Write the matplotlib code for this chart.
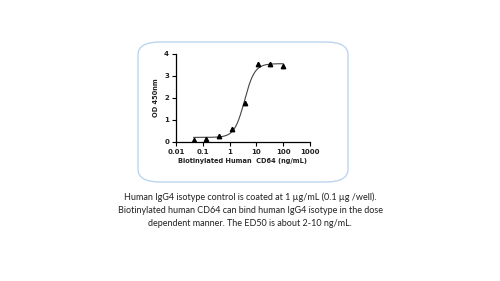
import matplotlib.pyplot as plt
import numpy as np
from matplotlib.patches import FancyBboxPatch

# data (3-fold dilution series)
conc = [0.0457, 0.137, 0.41, 1.23, 3.7, 11.1, 33.3, 100]
od = [0.10, 0.13, 0.27, 0.59, 1.78, 3.56, 3.56, 3.47]

# 4PL fit parameters (estimated)
bottom, top, ec50, hill = 0.21, 3.56, 3.6, 2.3

xticks = [0.01, 0.1, 1, 10, 100, 1000]
xticklabels = ['0.01', '0.1', '1', '10', '100', '1000']
yticks = [0, 1, 2, 3, 4]

caption = ("Human IgG4 isotype control is coated at 1 \u00b5g/mL (0.1 \u00b5g /well).\n"
           "Biotinylated human CD64 can bind human IgG4 isotype in the dose\n"
           "dependent manner. The ED50 is about 2-10 ng/mL.")

W, H = 500, 281
fig = plt.figure(figsize=(W / 100, H / 100), dpi=100)

# rounded frame
box = FancyBboxPatch((138 / W, 1 - 182 / H), 210 / W, 140 / H,
                     boxstyle="round,pad=0,rounding_size=0.045",
                     transform=fig.transFigure, fill=False,
                     edgecolor='#bcd5ee', linewidth=1.0)
fig.patches.append(box)

ax = fig.add_axes([176 / W, 1 - 142 / H, 134 / W, 88 / H])

xs = np.logspace(np.log10(conc[0]), np.log10(conc[-1]), 200)
fit = bottom + (top - bottom) / (1 + (ec50 / xs) ** hill)
ax.plot(xs, fit, color='#444444', linewidth=0.8)
ax.plot(conc, od, linestyle='none', marker='^', color='black', markersize=3.2)

ax.set_xscale('log')
ax.set_xlim(0.01, 1000)
ax.set_ylim(0, 4)
ax.set_xticks(xticks)
ax.set_xticklabels(xticklabels)
ax.xaxis.set_minor_locator(plt.NullLocator())
ax.set_yticks(yticks)

for s in ['top', 'right']:
    ax.spines[s].set_visible(False)
for s in ['left', 'bottom']:
    ax.spines[s].set_linewidth(0.9)
ax.tick_params(length=3, width=0.8, pad=2, labelsize=5, labelcolor='#222222')
for lab in ax.get_xticklabels() + ax.get_yticklabels():
    lab.set_fontweight('bold')

ax.set_xlabel('Biotinylated Human  CD64 (ng/mL)', fontsize=4.8, fontweight='bold',
              labelpad=2.5, color='#222222')
ax.set_ylabel('OD 450nm', fontsize=4.8, fontweight='bold', labelpad=4, color='#222222')

fig.text(250 / W, 1 - 210 / H, caption, ha='center', va='center',
         fontsize=6.5, family='Lato', linespacing=1.6, color='#222222')

fig.savefig('out.png', dpi=100)
